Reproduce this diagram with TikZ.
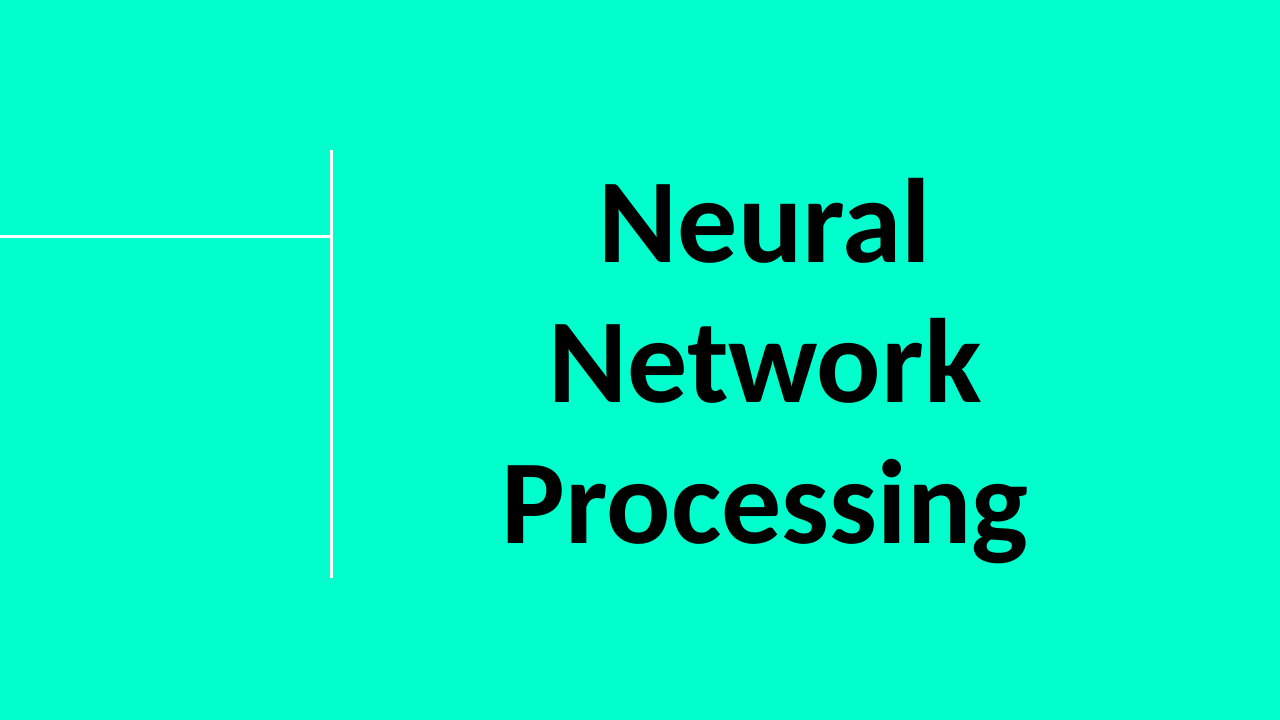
\documentclass[tikz,border=0pt]{standalone}
\usepackage{fontspec}
\setmainfont{Carlito}
\definecolor{bg}{HTML}{00FFCC}
\begin{document}
\begin{tikzpicture}[x=1pt,y=-1pt]
\tikzset{wline/.style={white,line width=3pt}}
\fill[bg] (0,0) rectangle (1280,720);
\useasboundingbox (0,0) rectangle (1280,720);
\coordinate (vt) at (331,150);
\coordinate (vb) at (331,578);
\coordinate (hl) at (0,236);
\coordinate (hr) at (331,236);
\draw[wline] (vt) -- (vb);
\draw[wline] (hl) -- (hr);
\node[font=\fontsize{120}{140}\selectfont\bfseries,align=center,anchor=base] (t1) at (765,262) {Neural};
\node[font=\fontsize{120}{140}\selectfont\bfseries,align=center,anchor=base] (t2) at (765,402) {Network};
\node[font=\fontsize{120}{140}\selectfont\bfseries,align=center,anchor=base] (t3) at (765,543) {Processing};
\end{tikzpicture}
\end{document}
